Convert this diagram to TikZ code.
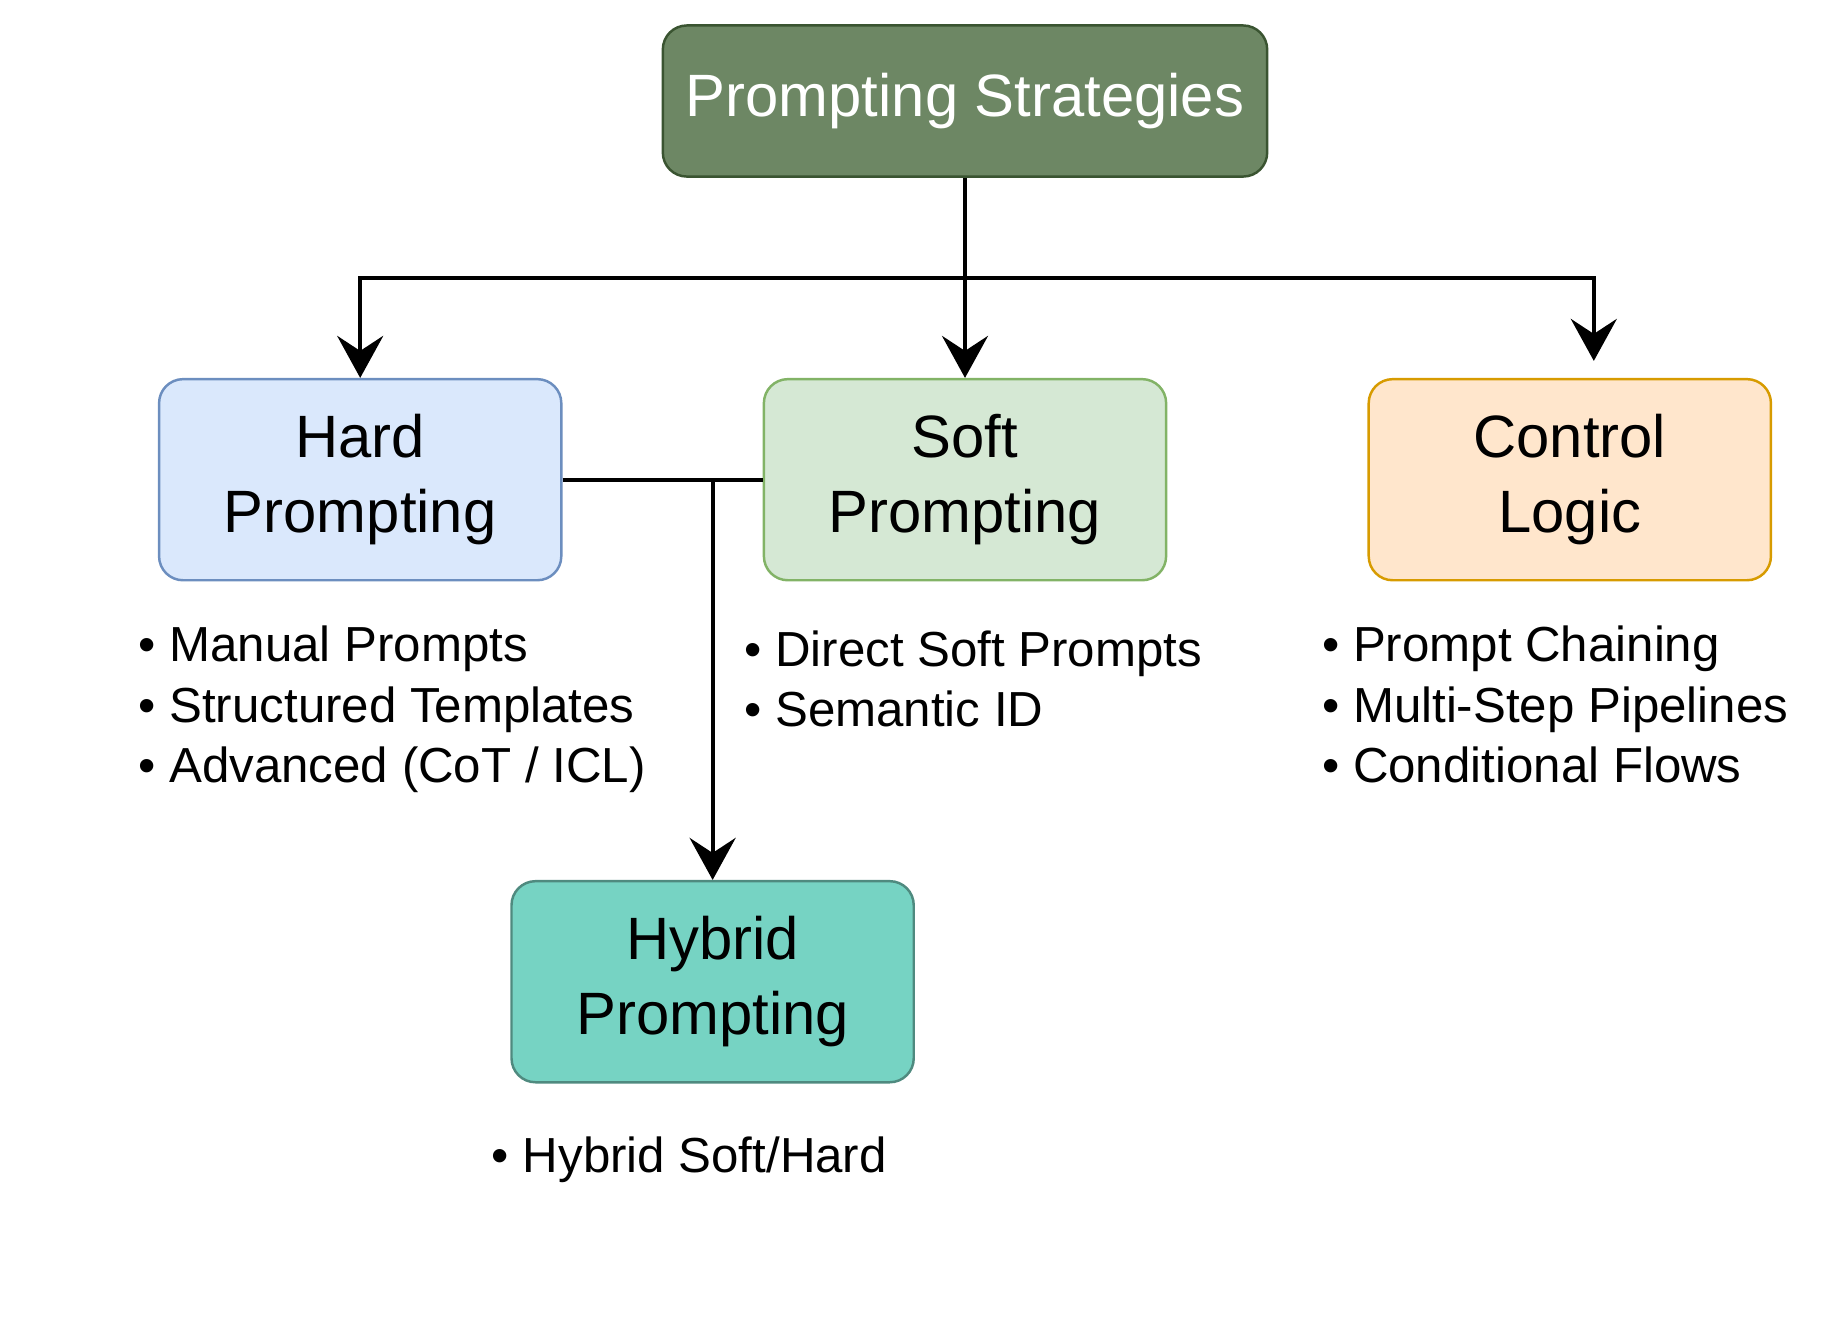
\documentclass[tikz,border=0pt]{standalone}
\usepackage{fontspec}
\setmainfont{Liberation Sans}
\usepackage{tikz}
\usetikzlibrary{calc,arrows.meta,positioning}
\definecolor{rootfill}{HTML}{6D8764}
\definecolor{rootdraw}{HTML}{3A5431}
\definecolor{hardfill}{HTML}{DAE8FC}
\definecolor{harddraw}{HTML}{6C8EBF}
\definecolor{softfill}{HTML}{D5E8D4}
\definecolor{softdraw}{HTML}{82B366}
\definecolor{ctrlfill}{HTML}{FFE6CC}
\definecolor{ctrldraw}{HTML}{D79B00}
\definecolor{hybfill}{HTML}{76D3C3}
\definecolor{hybdraw}{HTML}{4F8A7F}

\begin{document}
\begin{tikzpicture}[x=0.01cm,y=-0.01cm,node distance=2cm and 2cm]

\tikzset{catnode/.style={shape=rectangle,rounded corners=0.24cm,line width=0.7pt,minimum width=4.02cm,minimum height=2.01cm,align=center,font=\fontsize{17pt}{21.2pt}\selectfont},
rootnode/.style={catnode,fill=rootfill,draw=rootdraw,text=white,minimum width=6.04cm,minimum height=1.51cm},
listtext/.style={anchor=base west,align=left,inner sep=0pt,font=\fontsize{14pt}{17.2pt}\selectfont},
arr/.style={line width=1.1pt,-{Stealth[length=0.42cm,width=0.46cm,inset=0.15cm]}},
link/.style={line width=1.1pt}}

\useasboundingbox (0,0) rectangle (1824,1332);

% Root
\node [rootnode] (top) at (965,101) {Prompting Strategies};

% Categories
\node [catnode,fill=softfill,draw=softdraw,below=2cm of top] (soft) {Soft\\Prompting};
\node [catnode,fill=hardfill,draw=harddraw,left=of soft] (hard) {Hard\\Prompting};
\node [catnode,fill=ctrlfill,draw=ctrldraw,right=of soft] (control) {Control\\Logic};

\coordinate (mid) at ($(hard.east)!0.75!(soft.west)$);
\node [catnode,fill=hybfill,draw=hybdraw,below=4cm of mid] (hybrid) {Hybrid\\Prompting};

% Item lists (base = last line)
\node [listtext] (hardlist) at ($(hard.south west)+(-20,201)$) {• Manual Prompts\\• Structured Templates\\• Advanced (CoT / ICL)};
\node [listtext] (softlist) at ($(soft.south west)+(-19,145)$) {• Direct Soft Prompts\\• Semantic ID};
\node [listtext] (controllist) at ($(control.south west)+(-46,201)$) {• Prompt Chaining\\• Multi-Step Pipelines\\• Conditional Flows};
\node [listtext] (hybridlist) at ($(hybrid.south west)+(-19,89)$) {• Hybrid Soft/Hard};

% Edges
\coordinate (split) at ($(top.south)!0.5!(soft.north)$);
\coordinate (ctrltip) at ($(control.north)+(24,-17)$);
\draw[arr] (top.south) -- (soft.north);
\draw[arr] (split) -| (hard.north);
\draw[arr] (split) -| (ctrltip);
\draw[link] (hard.east) -- (soft.west);
\draw[arr] (mid) -- (hybrid.north);

\end{tikzpicture}
\end{document}
